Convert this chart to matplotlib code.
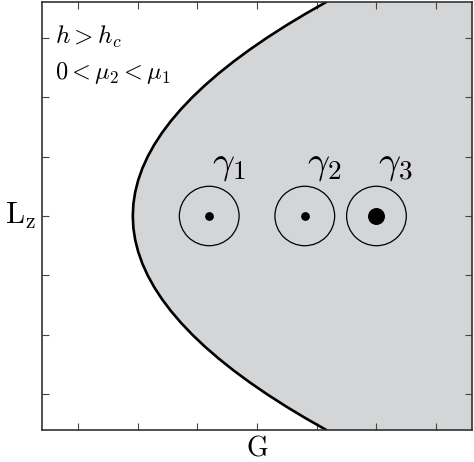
import numpy as np
import matplotlib
matplotlib.use('Agg')
import matplotlib.pyplot as plt
from matplotlib.patches import Circle

plt.rcParams['mathtext.fontset'] = 'cm'

# boundary of the shaded region (upper half, mirrored)
lz_half = [0.0, 0.2, 0.4, 0.6, 0.8, 1.0, 1.2, 1.4, 1.6, 1.8,
           2.0, 2.2, 2.4, 2.6, 2.8, 3.0, 3.2, 3.4, 3.6]
g_half = [-2.08, -2.07, -2.04, -1.99, -1.92, -1.83, -1.72, -1.59, -1.44, -1.27,
          -1.08, -0.87, -0.64, -0.39, -0.12, 0.17, 0.48, 0.81, 1.16]

# orbits gamma_1..3: centre G, Lz and dot size
orbit_g = [-0.8, 0.8, 2.0]
orbit_lz = [0.0, 0.0, 0.0]
orbit_r = [0.5, 0.5, 0.5]
dot_size = [28, 28, 125]
orbit_labels = [r'$\gamma_1$', r'$\gamma_2$', r'$\gamma_3$']

xlim = (-3.6, 3.6)
ylim = (-3.6, 3.6)

lz = np.concatenate([-np.array(lz_half[::-1]), np.array(lz_half[1:])])
g = np.concatenate([np.array(g_half[::-1]), np.array(g_half[1:])])

fig = plt.figure(figsize=(4.74, 4.62), dpi=100)
ax = fig.add_axes([0.0886, 0.0693, 0.9072, 0.9264])

ax.fill_betweenx(lz, g, xlim[1], color='#d4d5d7', lw=0)
ax.plot(g, lz, color='black', lw=1.9)

for gx, ly, r, s, lab in zip(orbit_g, orbit_lz, orbit_r, dot_size, orbit_labels):
    ax.add_patch(Circle((gx, ly), r, fill=False, ec='black', lw=0.9))
    ax.scatter([gx], [ly], s=s, color='black', zorder=3)
    ax.text(gx + 0.32, ly + 0.88, lab, fontsize=28, ha='center', va='center')

ax.text(0.03, 0.918, r'$h > h_c$', transform=ax.transAxes, fontsize=18, va='center')
ax.text(0.03, 0.834, r'$0 < \mu_2 < \mu_1$', transform=ax.transAxes, fontsize=17.5, va='center')

ax.set_xlim(*xlim)
ax.set_ylim(*ylim)
ax.set_xticks(np.arange(-3, 4))
ax.set_yticks(np.arange(-3, 4))
ax.set_xticklabels([])
ax.set_yticklabels([])
ax.tick_params(direction='in', length=5, width=0.8, color='#444444',
               top=True, right=True)
for sp in ax.spines.values():
    sp.set_color('#333333')
    sp.set_linewidth(1.2)

ax.set_xlabel(r'$\mathrm{G}$', fontsize=20, labelpad=-1)
ax.set_ylabel(r'$\mathrm{L_z}$', fontsize=22, rotation=0, labelpad=12, va='center')

fig.savefig('out.png', dpi=100)
